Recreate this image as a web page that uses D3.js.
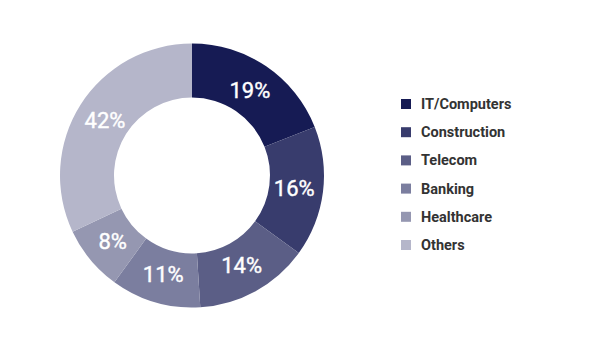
<!DOCTYPE html>
<html>
<head>
<meta charset="utf-8">
<script src="https://cdn.jsdelivr.net/npm/d3@7"></script>
<style>
  body { margin: 0; background: #fff; }
  svg { display: block; font-family: Roboto, sans-serif; }
</style>
</head>
<body>
<div id="chart"></div>
<script>
const categories = ["IT/Computers", "Construction", "Telecom", "Banking", "Healthcare", "Others"];
// slice sizes as drawn in the picture
const shares = [19, 16, 14, 11, 8, 32];
// labels as printed on the slices
const labels = ["19%", "16%", "14%", "11%", "8%", "42%"];
const colors = ["#161b54", "#383c6d", "#5b5e86", "#7b7e9f", "#9597b1", "#b5b6ca"];

const width = 598, height = 352;
const cx = 192, cy = 175.5;
const outerRadius = 132, innerRadius = 78;

const svg = d3.select("#chart").append("svg")
    .attr("width", width)
    .attr("height", height);

const data = categories.map((c, i) => ({ name: c, value: shares[i], label: labels[i] }));

const pie = d3.pie().sort(null).value(d => d.value);
const arc = d3.arc().innerRadius(innerRadius).outerRadius(outerRadius);
const labelArc = d3.arc().innerRadius(103).outerRadius(103);

const g = svg.append("g").attr("transform", `translate(${cx},${cy})`);

g.selectAll("path")
    .data(pie(data))
    .join("path")
    .attr("fill", (d, i) => colors[i])
    .attr("d", arc);

g.selectAll("text")
    .data(pie(data))
    .join("text")
    .attr("transform", d => `translate(${labelArc.centroid(d)})`)
    .attr("text-anchor", "middle")
    .attr("dy", "0.35em")
    .attr("fill", "#fff")
    .attr("stroke", "#fff")
    .attr("stroke-width", 0.4)
    .style("font-size", "22px")
    .text(d => d.data.label);

// legend
const y = d3.scalePoint().domain(categories).range([104, 245]);

const legend = svg.append("g")
    .selectAll("g")
    .data(categories)
    .join("g")
    .attr("transform", d => `translate(401,${y(d)})`);

legend.append("rect")
    .attr("x", 0)
    .attr("y", -5)
    .attr("width", 10)
    .attr("height", 10)
    .attr("fill", (d, i) => colors[i]);

legend.append("text")
    .attr("x", 20)
    .attr("dy", "0.35em")
    .attr("fill", "#333")
    .style("font-size", "14.5px")
    .style("font-weight", "bold")
    .text(d => d);
</script>
</body>
</html>
